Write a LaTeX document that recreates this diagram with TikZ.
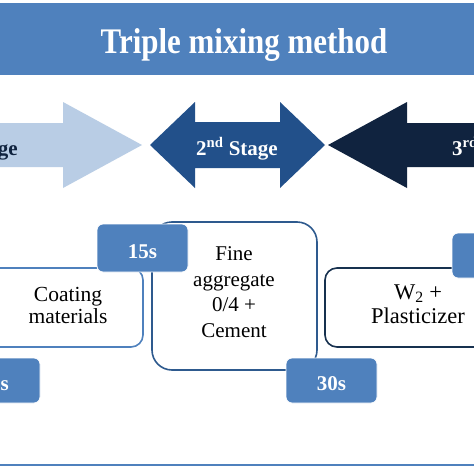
\documentclass[tikz,border=0pt]{standalone}
\usepackage{graphicx}
\usepackage{fontspec}
\setmainfont{Liberation Serif}
\definecolor{titleblue}{HTML}{4F81BD}
\definecolor{arrowlight}{HTML}{B9CDE5}
\definecolor{arrowmid}{HTML}{22508A}
\definecolor{arrowdark}{HTML}{10233F}
\definecolor{borderone}{HTML}{4F81BD}
\definecolor{bordertwo}{HTML}{2E5A8E}
\definecolor{borderthree}{HTML}{17314F}
\tikzset{
  boxline/.style={line width=1.6pt, fill=white, rounded corners=12pt},
  tagbox/.style={fill=titleblue, draw=white, line width=0.8pt, rounded corners=6pt},
  tagtext/.style={text=white, font=\fontsize{21}{23}\selectfont\bfseries, inner sep=0pt},
  boxtext/.style={align=center, inner sep=0pt, font=\fontsize{21}{23}\selectfont},
  stagetext/.style={font=\fontsize{21}{23}\selectfont\bfseries, inner sep=0pt}
}
\begin{document}
\begin{tikzpicture}[x=1pt,y=-1pt]
\useasboundingbox (0,0) rectangle (474,474);
\clip (0,0) rectangle (474,474);
\fill[white] (0,0) rectangle (474,474);
% title bar
\fill[titleblue] (-5,3) rectangle (480,75);
\node[text=white, inner sep=0pt, anchor=base, font=\fontsize{36}{40}\selectfont\bfseries] (title) at (244,53) {\scalebox{0.86}[1]{Triple mixing method}};
% stage arrows
\fill[arrowlight] (-60,123) -- (63,123) -- (63,102) -- (142,145) -- (63,188) -- (63,167) -- (-60,167) -- cycle;
\fill[arrowmid] (150,145) -- (195,102) -- (195,122) -- (280,122) -- (280,102) -- (325,145) -- (280,188) -- (280,168) -- (195,168) -- (195,188) -- cycle;
\fill[arrowdark] (328,145) -- (407,102) -- (407,123) -- (540,123) -- (540,167) -- (407,167) -- (407,188) -- cycle;
\node[stagetext, text=arrowdark, anchor=base east] (s1) at (18,155) {ge};
\node[stagetext, text=white, anchor=base] (s2) at (237,155) {2\textsuperscript{nd} Stage};
\node[stagetext, text=white, anchor=base west] (s3) at (452,155) {3\textsuperscript{rd}};
% content boxes
\draw[boxline, draw=borderone] (-40,268) rectangle (143,347);
\draw[boxline, draw=bordertwo, rounded corners=20pt] (152,222) rectangle (317,370);
\draw[boxline, draw=borderthree] (325,268) rectangle (540,347);
\node[boxtext, font=\fontsize{21.5}{22.5}\selectfont] (b1) at (68,305.5) {Coating\\materials};
\node[boxtext, font=\fontsize{21}{25.5}\selectfont] (b2) at (234,292) {Fine\\aggregate\\0/4 +\\Cement};
\node[boxtext, font=\fontsize{22.5}{24.5}\selectfont] (b3) at (418,304) {W\textsubscript{2} +\\Plasticizer};
% time tags
\draw[tagbox] (-51,358) rectangle (40,403);
\draw[tagbox] (97,224) rectangle (188,272);
\draw[tagbox] (286,358) rectangle (377,403);
\draw[tagbox] (452,233) rectangle (545,278);
\node[tagtext, anchor=base east] (t0) at (9,390) {s};
\node[tagtext, anchor=base] (t1) at (142.5,258) {15s};
\node[tagtext, anchor=base] (t2) at (331.5,390) {30s};
% bottom rule
\draw[titleblue, line width=2.5pt] (-5,465) -- (480,465);
\end{tikzpicture}
\end{document}
